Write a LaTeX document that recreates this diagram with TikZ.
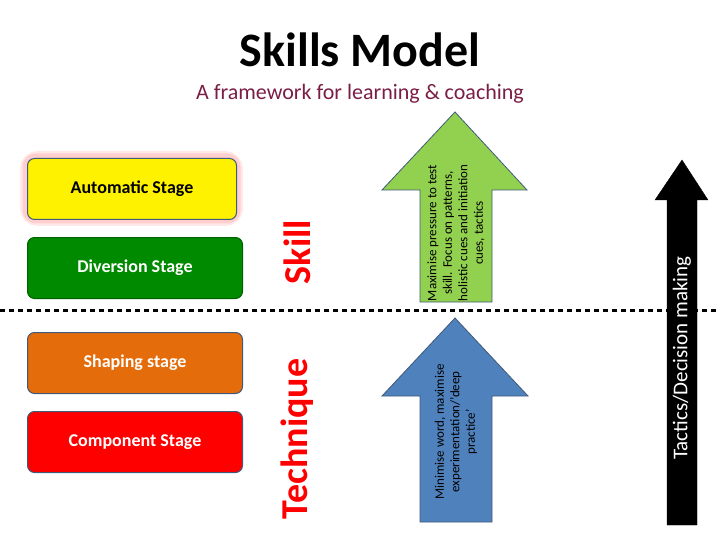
\documentclass[tikz,border=0pt]{standalone}
\usepackage{fontspec}
\setmainfont{Carlito}
\definecolor{sub}{HTML}{7A1E45}
\definecolor{dgreen}{HTML}{008A00}
\definecolor{orng}{HTML}{E46C0A}
\definecolor{lgreen}{HTML}{92D050}
\definecolor{bblue}{HTML}{4F81BD}
\definecolor{bord}{HTML}{3F5A7A}
\begin{document}
\begin{tikzpicture}[x=1pt,y=-1pt,
 stage/.style={draw=bord,line width=1pt,rounded corners=7pt,minimum height=61pt,font=\bfseries\fontsize{18}{21}\selectfont,anchor=north west},
 arr/.style={draw=bord,line width=0.8pt},
 vlab/.style={rotate=90,align=center,font=\fontsize{13}{15.5}\selectfont}]
\useasboundingbox (0,0) rectangle (720,540);
\node (title) at (360,50) {\bfseries\fontsize{48}{52}\selectfont Skills Model};
\node[text=sub] (subtitle) at (360,94) {\fontsize{22}{25}\selectfont A framework for learning \& coaching};
\draw[red!25,line width=9pt,rounded corners=9pt] (27,158) rectangle (236,219);
\draw[red!15,line width=14pt,rounded corners=11pt,opacity=0.6] (27,158) rectangle (236,219);
\node[stage,fill=yellow,minimum width=209pt,text=black] (auto) at (27,158) {Automatic Stage};
\node[stage,fill=dgreen,draw=dgreen!70!black,minimum width=215pt,text=white] (div) at (27,237) {Diversion Stage};
\node[stage,fill=orng,minimum width=215pt,text=white] (shape) at (27,332) {Shaping stage};
\node[stage,fill=red,draw=bord,minimum width=215pt,text=white] (comp) at (27,411) {Component Stage};
\draw[line width=3pt,dash pattern=on 5pt off 4pt] (0,310) -- (720,310);
\node[rotate=90,text=red,font=\bfseries\fontsize{38}{40}\selectfont] (skill) at (297,252) {Skill};
\node[rotate=90,text=red,font=\bfseries\fontsize{38}{40}\selectfont] (tech) at (297,439) {Technique};
\draw[arr,fill=lgreen] (455,112) -- (527,190) -- (492,190) -- (492,302) -- (420,302) -- (420,190) -- (382,190) -- cycle;
\node[vlab] (gt) at (456,233) {Maximise pressure to test\\skill. Focus on patterns,\\holistic cues and initiation\\cues, tactics};
\draw[arr,fill=bblue] (455,318) -- (528,396) -- (492,396) -- (492,522) -- (420,522) -- (420,396) -- (382,396) -- cycle;
\node[vlab] (bt) at (456,432) {Minimise word, maximise\\experimentation/'deep\\practice'};
\draw[fill=black] (682,160) -- (708,200) -- (697,200) -- (697,525) -- (667,525) -- (667,200) -- (655,200) -- cycle;
\node[rotate=90,text=white,font=\fontsize{21}{24}\selectfont] (tac) at (682,358) {Tactics/Decision making};
\end{tikzpicture}
\end{document}
